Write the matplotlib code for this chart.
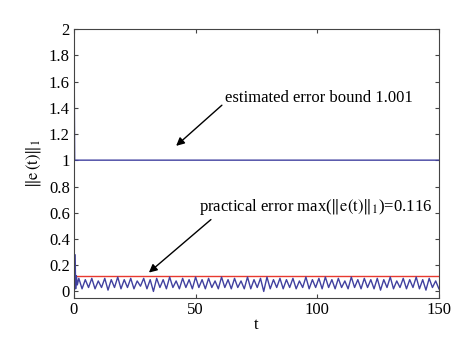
import numpy as np
import matplotlib
matplotlib.use('Agg')
import matplotlib.pyplot as plt

plt.rcParams['font.family'] = ['Liberation Serif', 'DejaVu Serif']
plt.rcParams['mathtext.fontset'] = 'stix'
plt.rcParams['font.size'] = 12

# Estimated error bound (starts at 2, settles at 1.001)
t_bound = [0, 0.3, 150]
bound = [2.0, 1.001, 1.001]

# Practical error max
err_max = 0.116
t_max = [1.0, 150]

# Initial transient of the error
t_start = [0.0, 0.5, 0.7, 1.0, 1.4]
err_start = [0.0, 0.28, 0.02, 0.12, 0.05]

# Oscillating part (alternating peaks and troughs)
err_osc = [0.10, 0.02, 0.09, 0.03, 0.10, 0.02, 0.08, 0.03, 0.10, 0.01,
           0.09, 0.03, 0.11, 0.02, 0.09, 0.03, 0.10, 0.02, 0.08, 0.04,
           0.10, 0.02, 0.09, 0.00, 0.10, 0.03, 0.09, 0.02, 0.11, 0.03,
           0.08, 0.02, 0.10, 0.03, 0.09, 0.02, 0.11, 0.03, 0.09, 0.02,
           0.10, 0.03, 0.08, 0.02, 0.11, 0.03, 0.09, 0.02, 0.10, 0.03,
           0.08, 0.02, 0.11, 0.02, 0.09, 0.03, 0.10, 0.00, 0.11, 0.02,
           0.09, 0.03, 0.10, 0.02, 0.09, 0.03, 0.10, 0.02, 0.08, 0.03,
           0.11, 0.02, 0.09, 0.03, 0.10, 0.02, 0.11, 0.03, 0.09, 0.02,
           0.10, 0.03, 0.08, 0.02, 0.11, 0.03, 0.09, 0.02, 0.10, 0.03,
           0.09, 0.02, 0.10, 0.01, 0.09, 0.03, 0.11, 0.02, 0.08, 0.03,
           0.10, 0.02, 0.09, 0.03, 0.11, 0.02, 0.09, 0.01, 0.10, 0.03,
           0.08, 0.02]
t_osc = np.linspace(2.0, 150, len(err_osc))

t_err = np.concatenate([t_start, t_osc])
err = np.concatenate([err_start, err_osc])

blue = '#40409f'
red = '#e8392f'

fig = plt.figure(figsize=(4.74, 3.51), dpi=100)
ax = fig.add_axes([0.156, 0.151, 0.770, 0.766])

ax.plot(t_bound, bound, color=blue, lw=1.0)
ax.plot(t_max, [err_max, err_max], color=red, lw=1.0)
ax.plot(t_err, err, color=blue, lw=1.0)

ax.set_xlim(0, 150)
ax.set_ylim(-0.05, 2)
ax.set_xticks([0, 50, 100, 150])
ax.set_yticks(np.arange(0, 2.01, 0.2))
ax.set_yticklabels(['0', '0.2', '0.4', '0.6', '0.8', '1', '1.2', '1.4', '1.6', '1.8', '2'])
ax.tick_params(direction='in', top=True, right=True, length=3, color='#444444', pad=3)
for s in ax.spines.values():
    s.set_color('#444444')

ax.set_xlabel('t', labelpad=-1)
ax.set_ylabel(r'$\|\mathrm{e\,(t)}\|_1$', labelpad=4)

arrow = dict(arrowstyle='-|>', color='black', lw=1.0,
             shrinkA=0, shrinkB=0, mutation_scale=12)

ax.text(62, 1.475, 'estimated error bound 1.001', va='center', ha='left')
ax.annotate('', xy=(42, 1.11), xytext=(60.8, 1.42), arrowprops=arrow)

ax.text(51.4, 0.646, r'practical error max($\|\mathrm{e(t)}\|_1$)=0.116',
        va='center', ha='left')
ax.annotate('', xy=(30.8, 0.144), xytext=(56.3, 0.548), arrowprops=arrow)

fig.savefig('out.png', dpi=100)
